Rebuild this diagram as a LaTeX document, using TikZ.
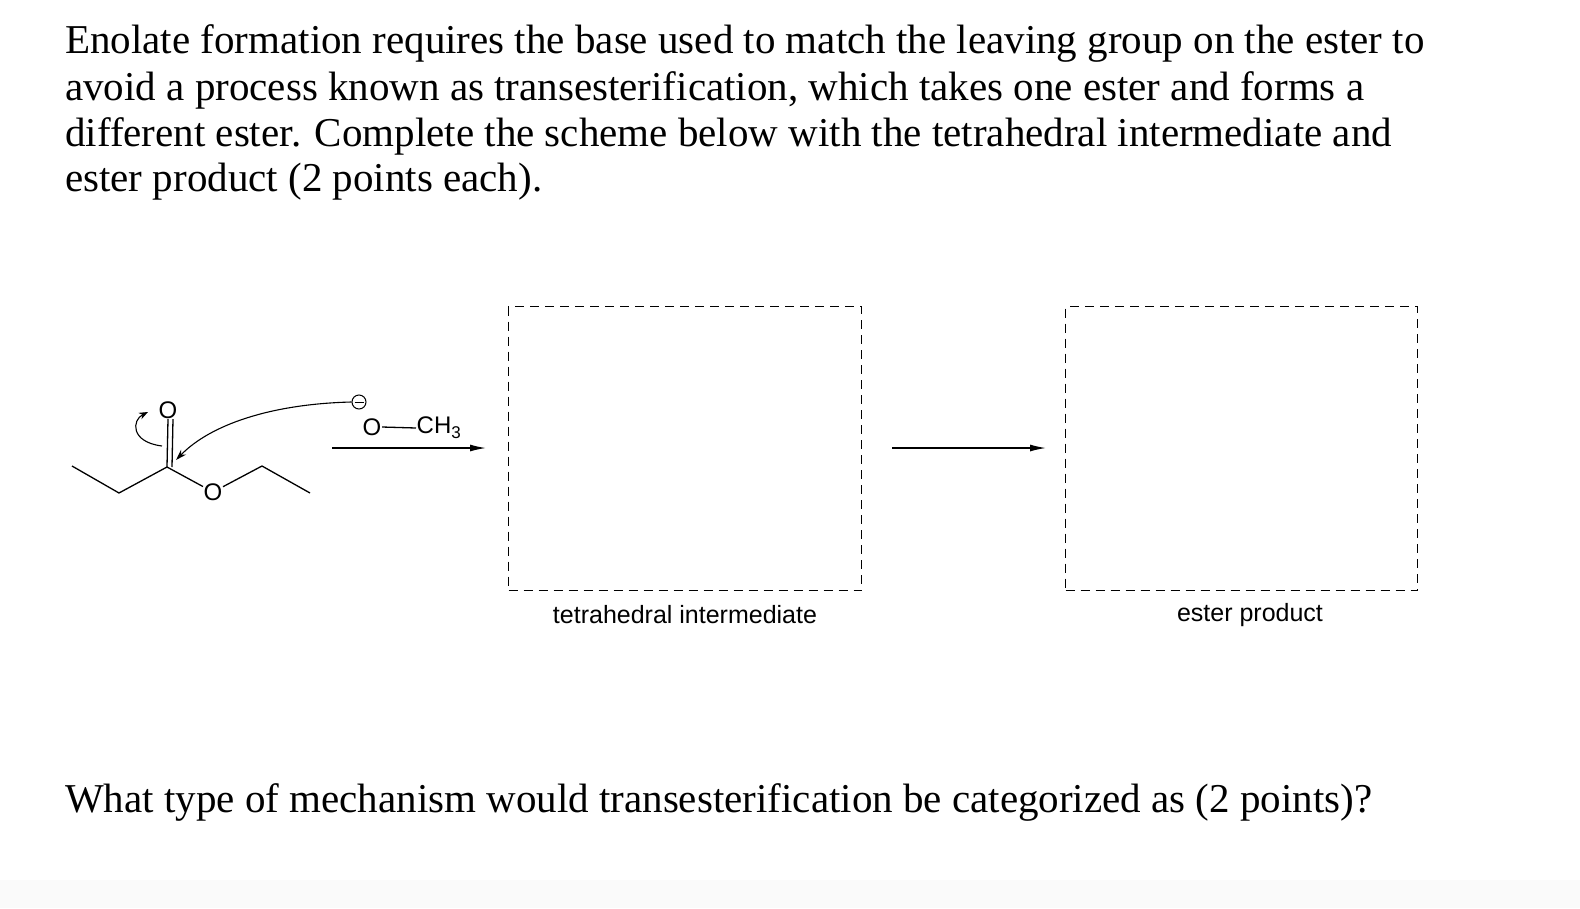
\documentclass[tikz,border=0pt]{standalone}
\usepackage{fontspec}
\setmainfont{Liberation Serif}
\newfontfamily\arialf{Liberation Sans}
\usetikzlibrary{arrows.meta}
\begin{document}
\begin{tikzpicture}[x=1pt,y=-1pt,
  bond/.style={line width=1.3pt},
  ttl/.style={anchor=west,inner sep=0,font=\fontsize{41}{46}\selectfont},
  atm/.style={inner sep=0.5pt,font=\arialf\fontsize{24}{26}\selectfont},
  lbl/.style={inner sep=0,font=\arialf\fontsize{25}{27}\selectfont},
  dbox/.style={draw,line width=1pt,dash pattern=on 9pt off 6pt},
  rxn/.style={line width=1.3pt,-{Latex[length=16pt,width=7pt]}}]
\useasboundingbox (0,0) rectangle (1580,908);
\fill[white] (0,0) rectangle (1580,908);
\fill[gray!4] (0,880) rectangle (1580,908);
\node[ttl] (t1) at (65,43) {Enolate formation requires the base used to match the leaving group on the ester to};
\node[ttl] (t2) at (65,90) {avoid a process known as transesterification, which takes one ester and forms a};
\node[ttl] (t3) at (65,136) {different ester. Complete the scheme below with the tetrahedral intermediate and};
\node[ttl] (t4) at (65,182) {ester product (2 points each).};
\node[ttl] (q) at (65,802) {What type of mechanism would transesterification be categorized as (2 points)?};
% molecule
\coordinate (a1) at (72,466);
\coordinate (a2) at (119,493);
\coordinate (c) at (167,467);
\node[atm] (o1) at (168,410) {O};
\node[atm] (o2) at (213,492) {O};
\coordinate (e1) at (262,466);
\coordinate (e2) at (310,493);
\draw[bond] (a1)--(a2)--(c)--(o2)--(e1)--(e2);
\draw[bond] (c)--(o1.south);
\draw[bond] ([xshift=5pt]c) -- ([xshift=5pt]o1.south);
% methoxide
\node[atm] (om) at (372,427) {O};
\node[atm,anchor=west] (ch3) at (416,428) {CH\raisebox{-5pt}{\fontsize{17}{17}\selectfont 3}};
\draw[bond] (om.east)--(ch3.west);
\node[draw,circle,line width=1pt,minimum size=14pt,inner sep=0] (neg) at (359,402) {};
\draw[line width=1pt] ([xshift=-4.5pt]neg.center)--([xshift=4.5pt]neg.center);
\draw[line width=1.1pt,-{Stealth[length=11pt,width=7pt]}] (neg.west) .. controls (270,404) and (210,425) .. (176,460);
\coordinate (sa) at (162,446);
\draw[line width=1.1pt,-{Stealth[length=9pt,width=7pt]}] (sa) .. controls (130,442) and (132,420) .. (148,412);
% arrows and boxes
\coordinate (r1a) at (332,448); \coordinate (r1b) at (486,448);
\draw[rxn] (r1a)--(r1b);
\node[dbox,minimum width=353pt,minimum height=284pt,anchor=north west] (b1) at (508,306) {};
\coordinate (r2a) at (892,448); \coordinate (r2b) at (1046,448);
\draw[rxn] (r2a)--(r2b);
\node[dbox,minimum width=352pt,minimum height=284pt,anchor=north west] (b2) at (1065,306) {};
\node[lbl] (l1) at (685,615) {tetrahedral intermediate};
\node[lbl] (l2) at (1250,615) {ester product};
\end{tikzpicture}
\end{document}
